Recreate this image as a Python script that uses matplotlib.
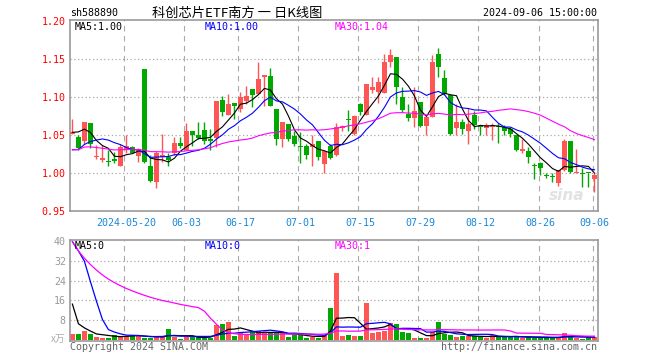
import numpy as np
import pandas as pd
import matplotlib
matplotlib.use('Agg')
import matplotlib.pyplot as plt

# daily bars, 2024-05-07 .. 2024-09-06 (88 sessions)
opens = [1.052, 1.048, 1.042, 1.066, 1.022, 1.017, 1.016, 1.019, 1.010, 1.032,
         1.035, 1.023, 1.137, 1.010, 0.989, 1.021, 1.021, 1.026, 1.040, 1.031,
         1.056, 1.050, 1.057, 1.045, 1.046, 1.096, 1.077, 1.093, 1.085, 1.095,
         1.111, 1.104, 1.127, 1.128, 1.084, 1.045, 1.065, 1.049, 1.036, 1.036,
         1.034, 1.042, 1.012, 1.036, 1.024, 1.060, 1.072, 1.051, 1.091, 1.076,
         1.109, 1.107, 1.106, 1.146, 1.153, 1.100, 1.078, 1.073, 1.094, 1.062,
         1.074, 1.157, 1.125, 1.103, 1.059, 1.068, 1.055, 1.077, 1.062, 1.059,
         1.061, 1.062, 1.061, 1.058, 1.050, 1.029, 1.029, 1.011, 1.013, 0.998,
         0.997, 0.987, 1.004, 1.042, 1.001, 1.001, 1.001, 0.992]
highs = [1.071, 1.050, 1.068, 1.066, 1.037, 1.037, 1.031, 1.028, 1.039, 1.050,
         1.036, 1.033, 1.137, 1.024, 1.029, 1.051, 1.026, 1.048, 1.048, 1.066,
         1.056, 1.068, 1.068, 1.058, 1.095, 1.102, 1.104, 1.093, 1.107, 1.115,
         1.111, 1.146, 1.129, 1.139, 1.084, 1.068, 1.065, 1.055, 1.054, 1.038,
         1.050, 1.042, 1.029, 1.039, 1.066, 1.063, 1.083, 1.077, 1.093, 1.118,
         1.126, 1.126, 1.157, 1.163, 1.153, 1.114, 1.091, 1.113, 1.094, 1.075,
         1.156, 1.165, 1.136, 1.103, 1.091, 1.071, 1.086, 1.082, 1.062, 1.066,
         1.066, 1.066, 1.064, 1.061, 1.050, 1.045, 1.034, 1.014, 1.015, 1.001,
         1.001, 1.004, 1.045, 1.042, 1.032, 1.007, 1.001, 1.000]
lows = [1.051, 1.031, 1.039, 1.033, 1.019, 1.015, 1.009, 1.014, 1.009, 1.027,
        1.026, 1.015, 1.014, 0.989, 0.980, 1.015, 1.010, 1.024, 1.033, 1.031,
        1.036, 1.045, 1.039, 1.030, 1.034, 1.075, 1.076, 1.071, 1.081, 1.091,
        1.087, 1.104, 1.089, 1.089, 1.037, 1.035, 1.042, 1.036, 1.014, 1.019,
        1.010, 1.017, 1.000, 1.019, 1.023, 1.055, 1.055, 1.050, 1.077, 1.076,
        1.105, 1.092, 1.106, 1.140, 1.091, 1.080, 1.069, 1.061, 1.061, 1.050,
        1.074, 1.126, 1.103, 1.050, 1.050, 1.052, 1.038, 1.058, 1.050, 1.050,
        1.044, 1.040, 1.050, 1.048, 1.029, 1.026, 1.014, 0.992, 0.998, 0.994,
        0.988, 0.983, 1.003, 1.001, 1.000, 0.982, 0.982, 0.975]
closes = [1.054, 1.033, 1.068, 1.038, 1.023, 1.020, 1.015, 1.016, 1.035, 1.036,
          1.027, 1.032, 1.015, 0.990, 1.027, 1.024, 1.018, 1.040, 1.036, 1.056,
          1.050, 1.046, 1.042, 1.042, 1.095, 1.080, 1.091, 1.088, 1.100, 1.102,
          1.103, 1.124, 1.129, 1.089, 1.045, 1.068, 1.045, 1.039, 1.035, 1.024,
          1.039, 1.021, 1.029, 1.020, 1.061, 1.062, 1.070, 1.075, 1.081, 1.118,
          1.114, 1.120, 1.146, 1.156, 1.114, 1.083, 1.073, 1.082, 1.062, 1.074,
          1.146, 1.140, 1.104, 1.052, 1.068, 1.058, 1.065, 1.063, 1.061, 1.063,
          1.062, 1.061, 1.055, 1.051, 1.031, 1.032, 1.022, 1.010, 1.007, 0.997,
          0.995, 1.004, 1.042, 1.002, 1.002, 0.999, 1.000, 0.998]
# volume, 万手
volumes = [2.5, 2.4, 3.6, 2.6, 1.2, 0.9, 0.9, 2.0, 1.8, 1.8,
           1.8, 1.6, 1.0, 0.9, 1.3, 1.3, 4.4, 1.3, 0.4, 1.3,
           1.3, 1.3, 1.0, 1.0, 5.9, 6.4, 7.2, 1.6, 3.3, 2.6,
           3.3, 3.6, 2.9, 2.9, 2.9, 2.9, 1.3, 2.0, 2.0, 0.9,
           1.4, 0.9, 2.0, 12.9, 26.9, 1.6, 2.0, 1.6, 1.6, 14.9,
           2.9, 3.3, 3.7, 6.7, 6.4, 3.3, 2.9, 0.9, 0.9, 0.9,
           3.1, 7.3, 2.4, 2.0, 1.3, 1.6, 1.6, 1.6, 1.3, 0.9,
           2.0, 1.3, 1.3, 1.3, 1.3, 0.9, 1.3, 0.9, 0.9, 0.9,
           0.9, 1.3, 2.7, 1.6, 0.9, 0.4, 1.1, 1.1]

# sessions before the window (right after listing), only used to seed the MAs
pre_closes = [1.000, 1.000, 1.003, 1.006, 1.030, 1.050, 1.060, 1.075]
pre_volumes = [45, 85, 80, 75, 42, 12, 9, 7]

tick_idx = [9, 19, 28, 38, 48, 58, 68, 78, 87]
tick_labels = ['2024-05-20', '06-03', '06-17', '07-01', '07-15',
               '07-29', '08-12', '08-26', '09-06']

RED = '#ff5555'
GREEN = '#00a800'
GRID = '#aaaaaa'
MONO = 'DejaVu Sans Mono'
CJK = ['Noto Sans CJK SC', 'DejaVu Sans']
FS = 7.2

W, H = 660, 360


def box(left, top, right, bottom):
    """Axes rect from pixel edges of the 660x360 canvas."""
    return [left / W, 1 - bottom / H, (right - left) / W, (bottom - top) / H]


def label(px, py, txt, **kw):
    kw.setdefault('fontfamily', MONO)
    kw.setdefault('fontsize', FS)
    fig.text(px / W, 1 - py / H, txt, va='center', **kw)


def style_axes(ax):
    for s in ax.spines.values():
        s.set_color('#999999')
        s.set_linewidth(1.2)
    for t in tick_idx:
        ax.axvline(t - 0.33, color=GRID, lw=0.8, ls=(0, (5, 4)), zorder=0)


o = np.array(opens)
h = np.array(highs)
l = np.array(lows)
c = np.array(closes)
v = np.array(volumes)
x = np.arange(len(c))
colors = np.where(c >= o, RED, GREEN)

n_pre = len(pre_closes)
c_all = pd.Series(pre_closes + closes)
v_all = pd.Series(pre_volumes + volumes)
ma_styles = [(5, 'black'), (10, 'blue'), (30, '#ff00ff')]

fig = plt.figure(figsize=(W / 100, H / 100), dpi=100)
fig.patch.set_facecolor('white')

# ---- price panel
ax = fig.add_axes(box(70, 20, 597.5, 211.3))
style_axes(ax)
for yv in [1.00, 1.05, 1.10, 1.15]:
    ax.axhline(yv, color=GRID, lw=0.9, ls=(0, (1, 2)), zorder=0)

ax.vlines(x, l, h, colors=colors, lw=1.0, zorder=2)
body = np.maximum(np.abs(c - o), 0.0012)
ax.bar(x, body, bottom=np.minimum(o, c), width=0.78, color=colors,
       linewidth=0, zorder=3)
for n, col in ma_styles:
    ma = c_all.rolling(n, min_periods=1).mean().values[n_pre:]
    ax.plot(x, ma, color=col, lw=0.8, zorder=4)

ax.set_xlim(-0.4, 87.5)
ax.set_ylim(0.95, 1.2015)
yt = [0.95, 1.00, 1.05, 1.10, 1.15, 1.20]
ax.set_yticks(yt)
ax.set_yticklabels(['%.2f' % t for t in yt], fontfamily=MONO, fontsize=FS,
                   color='red')
ax.set_xticks(tick_idx)
ax.set_xticklabels(tick_labels, fontfamily=MONO, fontsize=FS, color='#1a88d8')
ax.tick_params(length=0, pad=3)
ax.tick_params(axis='x', pad=5)

ax.text(0.975, 0.08, 'sina', transform=ax.transAxes, ha='right', va='center',
        fontsize=11, fontweight='bold', fontstyle='italic', color='#e2e2e2',
        zorder=1)

label(75, 27, 'MA5:1.00', color='black')
label(205, 27, 'MA10:1.00', color='blue')
label(335, 27, 'MA30:1.04', color='#ff00ff')

# ---- volume panel
axv = fig.add_axes(box(70, 240, 597.5, 341))
style_axes(axv)
for yv in [8, 16, 24, 32]:
    axv.axhline(yv, color=GRID, lw=0.9, ls=(0, (1, 2)), zorder=0)
axv.bar(x, v, width=0.8, color=colors, linewidth=0, zorder=2)
for n, col in ma_styles:
    ma = v_all.rolling(n, min_periods=1).mean().values[n_pre:]
    axv.plot(x, ma, color=col, lw=0.9, zorder=3)
axv.set_xlim(-0.4, 87.5)
axv.set_ylim(-0.4, 40.4)
vt = [8, 16, 24, 32, 40]
axv.set_yticks(vt)
axv.set_yticklabels([str(t) for t in vt], fontfamily=MONO, fontsize=FS,
                    color='#999999')
axv.set_xticks([])
axv.tick_params(length=0, pad=3)

label(75, 246, 'MA5:0', color='black')
label(205, 246, 'MA10:0', color='blue')
label(335, 246, 'MA30:1', color='#ff00ff')

# ---- header / footer
label(70, 13, 'sh588890')
label(237, 13, '科创芯片ETF南方 一 日K线图', fontfamily=CJK, fontsize=9.5,
      ha='center')
label(597, 13, '2024-09-06 15:00:00', ha='right')
label(65, 339, 'x万', fontfamily=CJK, fontsize=7, color='#aaaaaa', ha='right')
label(70, 347, 'Copyright 2024 SINA.COM', color='#666666')
label(597, 347, 'http://finance.sina.com.cn', color='#666666', ha='right')

fig.savefig('out.png', dpi=100)
